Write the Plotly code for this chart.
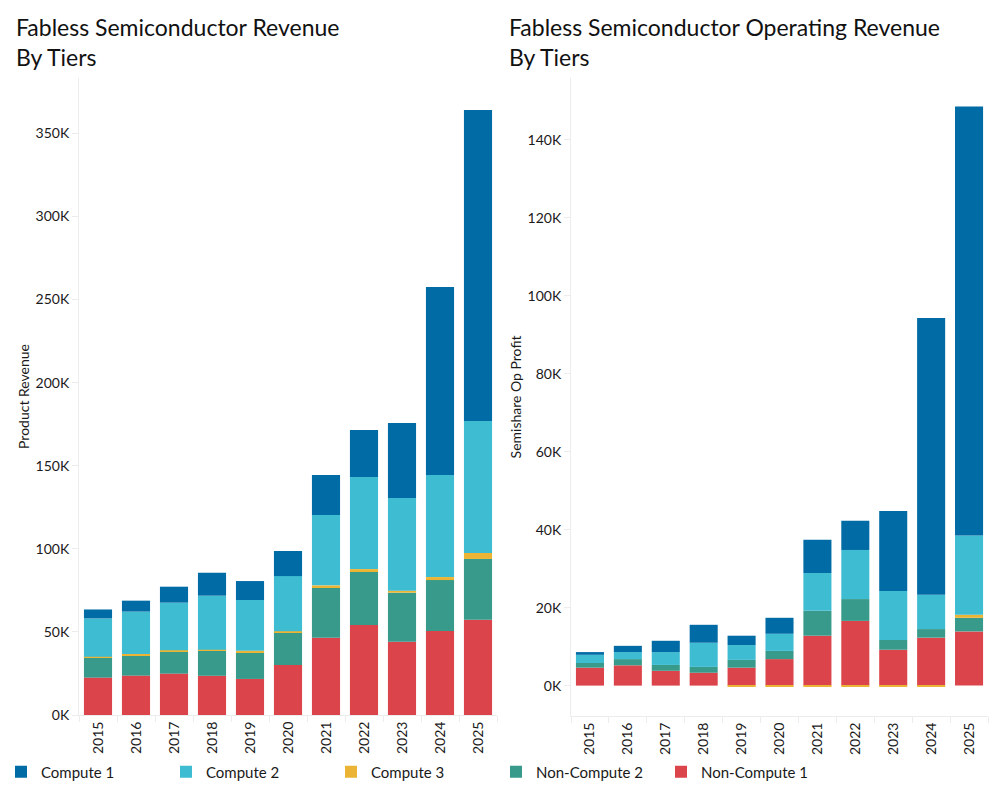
import plotly.graph_objects as go

years = ["2015", "2016", "2017", "2018", "2019", "2020", "2021", "2022", "2023", "2024", "2025"]

# Product revenue (thousands)
rev_noncompute1 = [22.5, 23.7, 24.9, 23.6, 21.7, 30.1, 46.5, 54.2, 44.1, 50.5, 57.3]
rev_noncompute2 = [12.0, 12.4, 13.3, 15.1, 16.0, 19.7, 30.5, 32.4, 29.5, 30.7, 36.6]
rev_compute3 = [0.6, 0.6, 0.8, 0.6, 1.0, 0.6, 1.0, 1.2, 1.2, 1.8, 3.6]
rev_compute2 = [23.0, 25.5, 28.6, 32.5, 30.5, 33.2, 42.3, 55.4, 55.8, 61.4, 79.4]
rev_compute1 = [5.4, 6.6, 9.6, 13.8, 11.4, 15.1, 24.1, 28.3, 45.1, 113.1, 187.1]

# Semishare op profit (thousands)
op_noncompute1 = [4.6, 5.2, 3.8, 3.3, 4.6, 6.8, 12.8, 16.6, 9.2, 12.3, 13.9]
op_noncompute2 = [1.2, 1.6, 1.5, 1.5, 2.0, 2.1, 6.4, 5.6, 2.5, 2.2, 3.5]
op_compute3 = [0.0, 0.0, 0.0, 0.0, -0.3, -0.3, -0.3, -0.3, -0.3, -0.3, 0.8]
op_compute2 = [2.1, 1.8, 3.3, 6.2, 3.8, 4.4, 9.7, 12.6, 12.6, 8.8, 20.3]
op_compute1 = [0.7, 1.6, 2.9, 4.6, 2.4, 4.1, 8.5, 7.5, 20.5, 71.0, 110.1]

series_names = ["Non-Compute 1", "Non-Compute 2", "Compute 3", "Compute 2", "Compute 1"]
legend_rank = {"Compute 1": 1, "Compute 2": 2, "Compute 3": 3, "Non-Compute 2": 4, "Non-Compute 1": 5}
colors = {
    "Compute 1": "#006BA4",
    "Compute 2": "#3EBCD2",
    "Compute 3": "#EBB434",
    "Non-Compute 2": "#379A8B",
    "Non-Compute 1": "#DB444B",
}
rev_data = [rev_noncompute1, rev_noncompute2, rev_compute3, rev_compute2, rev_compute1]
op_data = [op_noncompute1, op_noncompute2, op_compute3, op_compute2, op_compute1]

left_ticks = [0, 50, 100, 150, 200, 250, 300, 350]
right_ticks = [0, 20, 40, 60, 80, 100, 120, 140]

FONT = "Lato"

fig = go.Figure()
for name, vals in zip(series_names, rev_data):
    fig.add_trace(go.Bar(x=years, y=vals, name=name, marker_color=colors[name],
                         marker_line_width=0, xaxis="x", yaxis="y",
                         legendgroup=name, legendrank=legend_rank[name]))
for name, vals in zip(series_names, op_data):
    fig.add_trace(go.Bar(x=years, y=vals, name=name, marker_color=colors[name],
                         marker_line_width=0, xaxis="x2", yaxis="y2",
                         legendgroup=name, showlegend=False))

axis_common = dict(showgrid=False, zeroline=False, showline=True, linecolor="#ececec",
                   linewidth=1, ticks="outside", tickcolor="#ececec", ticklen=6,
                   automargin=False,
                   tickfont=dict(family=FONT, size=14, color="#1a1a1a"))

fig.update_layout(
    width=1000, height=800,
    margin=dict(l=0, r=0, t=0, b=0),
    paper_bgcolor="white", plot_bgcolor="white",
    barmode="relative", bargap=0.26,
    font=dict(family=FONT, color="#1a1a1a"),
    xaxis=dict(domain=[0.079, 0.497], tickangle=-90, tickson="boundaries", **axis_common),
    yaxis=dict(domain=[1 - 715 / 800, 1 - 78 / 800], range=[0, 383.3],
               tickvals=left_ticks, ticktext=[f"{v}K" for v in left_ticks],
               title=dict(text="Product Revenue", font=dict(family=FONT, size=14), standoff=2),
               **axis_common),
    xaxis2=dict(domain=[0.571, 0.988], tickangle=-90, tickson="boundaries", anchor="y2", **axis_common),
    yaxis2=dict(domain=[1 - 716 / 800, 1 - 78 / 800], range=[-7.8, 155.9], anchor="x2",
                tickvals=right_ticks, ticktext=[f"{v}K" for v in right_ticks],
                title=dict(text="Semishare Op Profit", font=dict(family=FONT, size=14), standoff=2),
                **axis_common),
    legend=dict(orientation="h", x=0.001, xanchor="left", y=1 - 772 / 800, yanchor="middle",
                entrywidth=120, entrywidthmode="pixels", itemwidth=30,
                bgcolor="rgba(0,0,0,0)",
                font=dict(family=FONT, size=15, color="#1a1a1a"), traceorder="normal"),
    annotations=[
        dict(text="Fabless Semiconductor Revenue<br>By Tiers", xref="paper", yref="paper",
             x=14 / 1000, y=1 - 11 / 800, xanchor="left", yanchor="top", align="left",
             showarrow=False, font=dict(family=FONT, size=23, color="#111")),
        dict(text="Fabless Semiconductor Operating Revenue<br>By Tiers", xref="paper", yref="paper",
             x=507 / 1000, y=1 - 11 / 800, xanchor="left", yanchor="top", align="left",
             showarrow=False, font=dict(family=FONT, size=23, color="#111")),
    ],
)

fig.write_html("out.html")
